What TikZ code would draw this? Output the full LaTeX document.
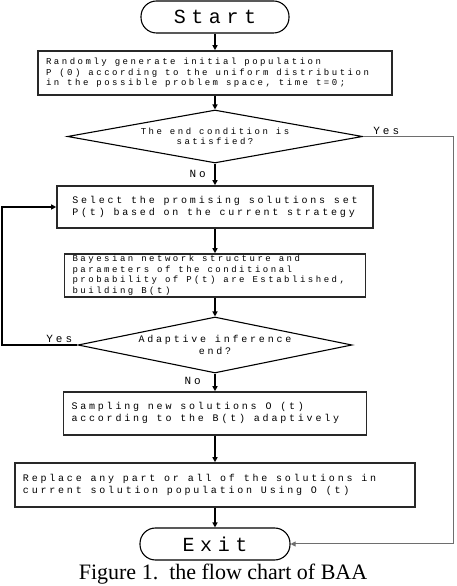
\documentclass[tikz,border=0pt]{standalone}
\usepackage{fontspec}
\setmainfont{Liberation Serif}
\newfontfamily\flowfont[LetterSpace=28]{Liberation Mono}
\definecolor{linegray}{RGB}{110,110,110}
\definecolor{framegray}{RGB}{40,40,40}
\usetikzlibrary{arrows.meta, positioning, shapes.geometric}
\newcommand{\boxlines}[1]{\spaceskip=0pt\xspaceskip=0pt\begin{tabular}{@{}l@{}}#1\end{tabular}}

\begin{document}
\begin{tikzpicture}[
      x=1pt, y=1pt,
      terminal/.style={rectangle, rounded corners=15.5pt, draw=black, line width=1.1pt,
                       minimum width=148pt, minimum height=32pt, inner sep=0pt,
                       font=\flowfont\fontsize{20}{24}\selectfont},
      procbox/.style={rectangle, draw=framegray, line width=1.6pt, inner xsep=8pt, inner ysep=0pt,
                      align=left, font=\flowfont\fontsize{10}{11.7}\selectfont},
      decision/.style={diamond, draw=black, line width=1.1pt, aspect=5.5, inner sep=0pt,
                       align=center, font=\flowfont\fontsize{10}{11.7}\selectfont},
      arrow/.style={-{Triangle[length=5pt,width=5pt]}, line width=1.6pt},
      back/.style={-{Triangle[length=5pt,width=5pt]}, line width=1pt, color=linegray},
      lbl/.style={font=\flowfont\fontsize{11}{13}\selectfont, inner sep=0pt}
    ]
    \useasboundingbox (0,0) rectangle (456,586);

    % main column
    \node[terminal] (start) at (215,569) {Start};
    \node[procbox, text width=338pt, minimum height=44pt,
          font=\flowfont\fontsize{9}{10.5}\selectfont] (init) at (215,513)
      {\boxlines{Randomly generate initial population\\P (0) according to the uniform distribution\\in the possible problem space, time t=0;}};
    \node[decision, minimum width=295pt, minimum height=53pt,
          font=\flowfont\fontsize{9}{10.5}\selectfont] (endcond) at (215,449.5)
      {The end condition is\\satisfied?};
    \node[procbox, text width=300pt, minimum height=42pt, align=center] (select) at (215,379)
      {\boxlines{Select the promising solutions set\\P(t) based on the current strategy}};
    \node[procbox, text width=285pt, minimum height=43pt,
          font=\flowfont\fontsize{9}{10.4}\selectfont] (bayes) at (215,310.5)
      {\boxlines{Bayesian network structure and\\parameters of the conditional\\probability of P(t) are Established,\\building B(t)}};
    \node[decision, minimum width=274pt, minimum height=56pt] (adapt) at (215,241)
      {Adaptive inference\\end?};
    \node[procbox, text width=287pt, minimum height=43pt] (sample) at (215,172.5)
      {\boxlines{Sampling new solutions O (t)\\according to the B(t) adaptively}};
    \node[procbox, text width=384pt, minimum height=44pt] (replace) at (215,101)
      {\boxlines{Replace any part or all of the solutions in\\current solution population Using O (t)}};
    \node[terminal, minimum width=150pt] (exit) at (215,42) {Exit};

    \draw[arrow] (start) -- (init);
    \draw[arrow] (init) -- (endcond);
    \draw[arrow] (endcond) -- (select);
    \draw[arrow] (select) -- (bayes);
    \draw[arrow] (bayes) -- (adapt);
    \draw[arrow] (adapt) -- (sample);
    \draw[arrow] (sample) -- (replace);
    \draw[arrow] (replace) -- (exit);

    % branch labels
    \node[lbl, below left=7pt and 9pt of endcond.south] {No};
    \node[lbl, above right=2pt and 10pt of endcond.east] {Yes};
    \node[lbl, above left=2pt and 5pt of adapt.west] {Yes};
    \node[lbl, below left=4pt and 14pt of adapt.south] {No};

    % loops
    \coordinate (rightx) at (453,0);
    \coordinate (leftx) at (2,0);
    \draw[back] (endcond.east) -- (endcond.east -| rightx) |- (exit.east);
    \draw[-{Triangle[length=5pt,width=5pt]}, line width=1.2pt] (adapt.west) -- (adapt.west -| leftx) |- (select.west);

    % caption
    \node[font=\fontsize{22}{26}\selectfont, inner sep=0pt] (caption) at (223,12) {Figure 1.\ \ the flow chart of BAA};

  \end{tikzpicture}
\end{document}
